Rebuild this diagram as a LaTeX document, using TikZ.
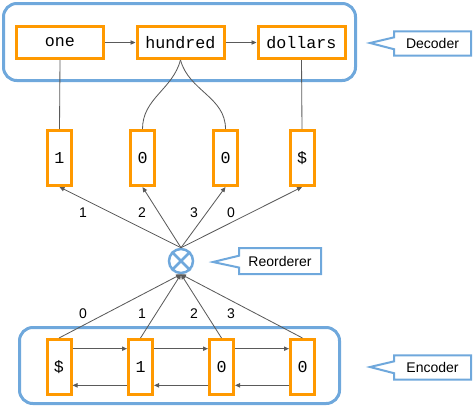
\documentclass[tikz,border=0pt]{standalone}
\usepackage{fontspec}
\setmainfont{Liberation Sans}
\setsansfont{Liberation Sans}
\setmonofont{Liberation Mono}
\usepackage{xcolor}
\usetikzlibrary{arrows.meta,shapes.callouts}
\definecolor{boxorange}{HTML}{FF9900}
\definecolor{frameblue}{HTML}{6FA8DC}
\definecolor{linegray}{HTML}{5A5A5A}

\begin{document}
\begin{tikzpicture}[x=0.6pt,y=-0.6pt,
        word/.style={draw=boxorange,line width=1.8pt,fill=white,inner sep=0pt,
                minimum width=52.2pt,minimum height=19.2pt,font=\ttfamily\fontsize{10}{12}\selectfont},
        digit/.style={word,minimum width=14.4pt,minimum height=33pt},
        frame/.style={draw=frameblue,line width=1.8pt,rounded corners=8pt},
        tag/.style={rectangle callout,draw=frameblue,line width=1.2pt,fill=white,inner sep=0pt,
                minimum width=46.2pt,minimum height=14.5pt,font=\sffamily\fontsize{8.4}{10}\selectfont},
        link/.style={draw=linegray,line width=0.5pt},
        arr/.style={link,-{Triangle[length=3pt,width=2.6pt]}},
        num/.style={font=\sffamily\fontsize{8.4}{10}\selectfont}]
        \useasboundingbox (0,0) rectangle (474,409);
        % marcos
        \draw[frame] (3.5,3.5) rectangle (355.5,80.5); % decoder
        \draw[frame] (19.5,327.5) rectangle (339.5,403.5); % encoder
        % decoder
        \node[word] (one) at (60,42.5) {one};
        \node[word] (hundred) at (180.5,42.5) {hundred};
        \node[word] (dollars) at (301.5,42.5) {dollars};
        \draw[arr] (one) -- (hundred);
        \draw[arr] (hundred) -- (dollars);
        % salida reordenada
        \foreach \n/\x/\t in {1/59.5/1,2/142.5/0,3/225.5/0,4/302/\$}
        \node[digit] (m\n) at (\x,158) {\t};
        \draw[link] (one.south) -- (m1.north);
        \draw[link] (hundred.south) to[out=255,in=90] (m2.north);
        \draw[link] (hundred.south) to[out=285,in=90] (m3.north);
        \draw[link] (dollars.south) -- (m4.north);
        % reorderer
        \node[circle,draw=frameblue,line width=1.5pt,minimum size=14.4pt,inner sep=0pt] (mix) at (181,261) {};
        \draw[frameblue,line width=1.5pt] (mix.north east) -- (mix.south west);
        \draw[frameblue,line width=1.5pt] (mix.north west) -- (mix.south east);
        \foreach \n in {1,...,4}
        \draw[arr] (mix.north) -- (m\n.south);
        % encoder
        \foreach \n/\x/\t in {1/59/\$,2/140.5/1,3/221.5/0,4/302.5/0}
        \node[digit] (e\n) at (\x,367) {\t};
        \foreach \n in {1,...,4}
        \draw[arr] (e\n.north) -- (mix.south);
        \foreach \a/\b in {1/2,2/3,3/4}
        {
        \draw[arr] ([yshift=11pt]e\a.east) -- ([yshift=11pt]e\b.west);
        \draw[arr] ([yshift=-11pt]e\b.west) -- ([yshift=-11pt]e\a.east);
        }
        % indices
        \foreach \x/\t [count=\i] in {83/1,142/2,194/3,231/0}
        \node[num] (up\i) at (\x,213) {\t};
        \foreach \x/\t [count=\i] in {83/0,142/1,194/2,231/3}
        \node[num] (lo\i) at (\x,314) {\t};
        % etiquetas
        \node[tag,callout absolute pointer={(370,43)}] (dec) at (432.5,43.5) {Decoder};
        \node[tag,minimum width=49.2pt,minimum height=15.6pt,callout absolute pointer={(213,262)}] (reo) at (280,261) {Reorderer};
        \node[tag,callout absolute pointer={(370,367)}] (enc) at (432.5,367.5) {Encoder};
\end{tikzpicture}
\end{document}
